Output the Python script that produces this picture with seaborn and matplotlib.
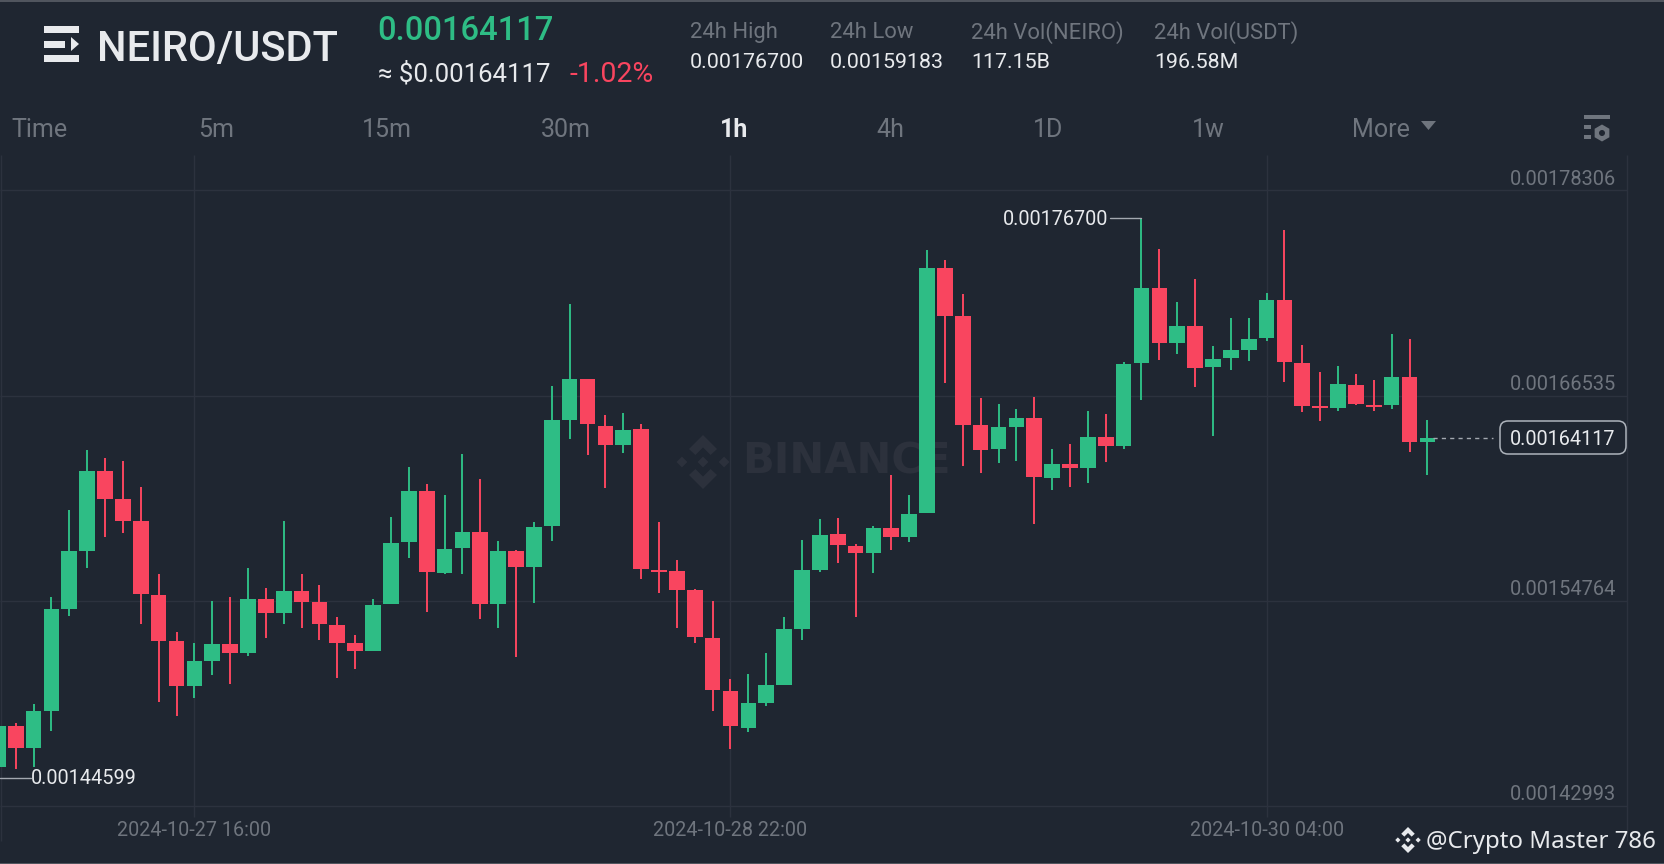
import numpy as np
import pandas as pd
import matplotlib
matplotlib.use('Agg')
import matplotlib.pyplot as plt
from matplotlib.patches import Polygon, Rectangle, FancyBboxPatch, RegularPolygon, Circle
from matplotlib.transforms import IdentityTransform
import seaborn as sns

# Candle values (price x 1e8)
opens = [145250, 147602, 146321, 148463, 154315, 157604, 162232, 160588, 159325, 155118,
         152441, 149897, 151312, 152288, 151790, 154850, 154085, 155309, 154697, 153397,
         152326, 151886, 154563, 158120, 161084, 156380, 157814, 158713, 154601, 157604,
         156724, 159038, 165158, 167510, 164814, 163704, 164603, 156514, 156456, 155366,
         152612, 149610, 147487, 148902, 149916, 153167, 156552, 158618, 157929, 157528,
         158924, 158407, 159784, 173840, 171087, 164833, 163456, 164757, 165254, 161831,
         162615, 162365, 164144, 163666, 168389, 172692, 169575, 170531, 168198, 168676,
         169154, 169824, 172042, 168428, 165922, 165807, 167146, 165999, 165999, 167605,
         163876]
closes = [147602, 146321, 148463, 154296, 157623, 162232, 160607, 159325, 155156, 152460,
          149897, 151293, 152288, 151752, 154850, 154085, 155309, 154716, 153454, 152326,
          151886, 154544, 158082, 161046, 156437, 157757, 158732, 154582, 157623, 156686,
          159019, 165139, 167510, 164890, 163704, 164584, 156571, 156437, 155385, 152689,
          149629, 147564, 148902, 149916, 153129, 156552, 158560, 157948, 157489, 158924,
          158407, 159746, 173840, 171106, 164871, 163418, 164718, 165254, 161850, 162615,
          162385, 164144, 163666, 168351, 172692, 169556, 170531, 168141, 168657, 169135,
          169804, 172023, 168447, 165941, 165807, 167223, 166037, 165903, 167624, 163876,
          164117]
highs = [147602, 147736, 148826, 154965, 159976, 163418, 162978, 162806, 161276, 156304,
         152957, 152345, 154774, 154965, 156648, 155481, 159325, 156323, 155692, 153856,
         152785, 154889, 159574, 162442, 161486, 160836, 163188, 161735, 158178, 157699,
         159268, 167070, 171775, 167510, 165425, 165521, 164890, 159287, 157126, 155443,
         154754, 150260, 150566, 151752, 153817, 158254, 159440, 159517, 158044, 159077,
         161964, 160817, 174873, 174319, 172368, 166382, 166076, 165770, 166459, 163475,
         163743, 165674, 165482, 168466, 176700, 174968, 171889, 173208, 169384, 170971,
         170971, 172405, 176020, 169422, 167873, 168236, 167796, 167433, 170053, 169766,
         165119]
lows = [144599, 145097, 145250, 147315, 153894, 156648, 158407, 158675, 153416, 148979,
        148176, 149209, 150509, 149993, 151618, 152651, 153454, 153225, 152536, 150356,
        150834, 151886, 154563, 157240, 154104, 156322, 156322, 153722, 153205, 151522,
        154620, 158197, 164068, 163150, 161256, 163264, 156036, 155232, 153205, 152345,
        148463, 146244, 147258, 148730, 149916, 152497, 156437, 156954, 153817, 156379,
        157700, 158121, 159784, 167281, 162500, 162117, 162691, 162787, 159191, 161123,
        161295, 161543, 162748, 163455, 166266, 168600, 168906, 167012, 164201, 167988,
        168504, 169651, 167299, 165578, 165081, 165674, 165999, 165674, 165750, 163321,
        161983]

price_ticks = [142993, 154764, 166535, 178306]
time_ticks = [11, 41, 71]
time_labels = ['2024-10-27 16:00', '2024-10-28 22:00', '2024-10-30 04:00']
tabs = ['Time', '5m', '15m', '30m', '1h', '4h', '1D', '1w', 'More']
tab_x = [11, 198, 362, 541, 720, 876, 1033, 1192, 1352]
stats = [('24h High', '0.00176700', 690), ('24h Low', '0.00159183', 830),
         ('24h Vol(NEIRO)', '117.15B', 971), ('24h Vol(USDT)', '196.58M', 1154)]

W, H = 1665, 864
BG = '#1f2631'
GREEN = '#2ebd85'
RED = '#f9455f'
GRID = '#2c323e'
MUTED = '#6f757e'
WHITE = '#e8eaed'

sns.set_theme(style='dark', rc={'figure.facecolor': BG, 'axes.facecolor': BG})
plt.rcParams['font.family'] = ['Roboto', 'DejaVu Sans']

df = pd.DataFrame({'i': range(len(opens)), 'open': opens, 'close': closes, 'high': highs, 'low': lows})
df[['open', 'close', 'high', 'low']] /= 1e8
df['up'] = df['close'] >= df['open']
df['bottom'] = df[['open', 'close']].min(axis=1)
df['height'] = (df['open'] - df['close']).abs()

fig = plt.figure(figsize=(W / 100, H / 100), dpi=100, facecolor=BG)
ax = fig.add_axes([0, 0, 1, 1])

# pixel helpers for the page furniture around the chart
def xdata(px):
    return 0.1231 + px / 17.87

def ydata(py):
    return (142993 + (806 - py) * 57.372) / 1e8

def label(x, y, s, size, color=MUTED, ha='left', weight='normal', family=None):
    kw = {'family': family} if family else {}
    fig.text(x / W, 1 - (y + 2) / H, s, fontsize=size, color=color, ha=ha, va='center', fontweight=weight, **kw)

def shape(pts, color, z=1):
    pts = [(x, H - y) for x, y in pts]
    ax.add_patch(Polygon(pts, closed=True, fc=color, ec='none', transform=IdentityTransform(), zorder=z))

def rect(x0, y0, x1, y1, color, z=6):
    ax.add_patch(Rectangle((x0, H - y1), x1 - x0, y1 - y0, fc=color, ec='none',
                           transform=IdentityTransform(), zorder=z))

def binance_logo(cx, cy, s, color, z=1):
    for dx, dy in [(0, 0), (-0.78, 0), (0.78, 0)]:
        r = 0.2 * s
        x, y = cx + dx * s, cy + dy * s
        shape([(x, y - r), (x + r, y), (x, y + r), (x - r, y)], color, z)
    for sign in (-1, 1):
        chev = [(0, 1), (0.52, 0.48), (0.28, 0.26), (0, 0.54), (-0.28, 0.26), (-0.52, 0.48)]
        shape([(cx + a * s, cy + sign * b * s) for a, b in chev], color, z)

# Grid
ax.hlines([p / 1e8 for p in price_ticks], xdata(0), xdata(1627), color=GRID, lw=1, zorder=0)
ax.vlines(time_ticks, ydata(817), ydata(155), color=GRID, lw=1, zorder=0)
ax.vlines([xdata(1), xdata(1627)], ydata(841), ydata(155), color=GRID, lw=1, zorder=0)

# Watermark, behind the candles
binance_logo(703, 462, 27, '#2c313c')
ax.annotate('BINANCE', xy=(xdata(742), ydata(462)), ha='left', va='center', fontsize=30, color='#2c313c',
            fontweight='bold', family='DejaVu Sans', zorder=1)

# Wicks
wicks = df.melt(id_vars=['i', 'up'], value_vars=['low', 'high'], value_name='price')
sns.lineplot(data=wicks, x='i', y='price', units='i', hue='up', palette={True: GREEN, False: RED},
             estimator=None, sort=False, legend=False, lw=1.4, ax=ax, zorder=3, solid_capstyle='butt')

# Bodies
for is_up, color in [(True, GREEN), (False, RED)]:
    part = df[df['up'] == is_up]
    sns.barplot(data=part, x='i', y='height', bottom=part['bottom'].values, native_scale=True,
                color=color, saturation=1, width=0.877, errorbar=None, linewidth=0, ax=ax, zorder=4)

# Axis labels
for p in price_ticks:
    ax.annotate(f'{p / 1e8:.8f}', xy=(xdata(1616), p / 1e8), xytext=(0, 11), textcoords='offset pixels',
                ha='right', va='center', fontsize=14.4, color=MUTED)
for t, s in zip(time_ticks, time_labels):
    ax.annotate(s, xy=(t, ydata(830)), ha='center', va='center', fontsize=14.2, color=MUTED)

# High / low / last price markers
ax.plot([xdata(1110), 64], [highs[64] / 1e8] * 2, color='#a3a8b0', lw=1, zorder=5)
ax.plot([xdata(0), xdata(31)], [lows[0] / 1e8] * 2, color='#a3a8b0', lw=1, zorder=5)
ax.annotate('0.00176700', xy=(xdata(1108), highs[64] / 1e8), xytext=(0, -1), textcoords='offset pixels',
            ha='right', va='center', fontsize=14.3, color=WHITE)
ax.annotate('0.00144599', xy=(xdata(31), lows[0] / 1e8), xytext=(0, 0), textcoords='offset pixels',
            ha='left', va='center', fontsize=14.3, color=WHITE)
ax.plot([80.3, xdata(1493)], [closes[-1] / 1e8] * 2, color='#a3a8b0', lw=1, dashes=(3, 3), zorder=5)
ax.add_patch(FancyBboxPatch((1500, H - 454), 126, 33, boxstyle='round,pad=0,rounding_size=8', fc=BG,
                            ec='#aeb4bc', lw=1.1, transform=IdentityTransform(), zorder=6))
ax.annotate('0.00164117', xy=(xdata(1563), closes[-1] / 1e8), xytext=(0, -2), textcoords='offset pixels',
            ha='center', va='center', fontsize=14.3, color=WHITE, zorder=7)

ax.set_xlim(xdata(0), xdata(W))
ax.set_ylim(ydata(H), ydata(0))
ax.axis('off')

# Header
rect(44, 26, 79, 33.3, WHITE)
rect(44, 40.7, 65, 47.7, WHITE)
shape([(71, 37), (79, 44), (71, 51)], WHITE, 6)
rect(44, 54.7, 79, 62, WHITE)
label(97, 47, 'NEIRO/USDT', 30, WHITE, weight='medium')
label(377, 29, '0.00164117', 23.5, GREEN, weight='medium')
label(378, 72, '≈ $0.00164117', 18.5, WHITE)
label(570, 72, '-1.02%', 20.5, RED)
for name, value, x in stats:
    label(x, 30.5, name, 15.8, MUTED)
    label(x, 61, value, 15.4, WHITE)

for name, x in zip(tabs, tab_x):
    active = name == '1h'
    label(x, 128, name, 18, WHITE if active else MUTED, weight='bold' if active else 'normal')
shape([(1421, 121), (1436, 121), (1428.5, 130)], MUTED, 6)

# settings icon
rect(1584, 115, 1610, 119, MUTED)
rect(1584, 125, 1591, 129, MUTED)
rect(1584, 135, 1591, 139, MUTED)
ax.add_patch(RegularPolygon((1602, H - 133), 6, radius=8.5, fc=MUTED, ec='none',
                            transform=IdentityTransform(), zorder=6))
ax.add_patch(Circle((1602, H - 133), 3, fc=BG, ec='none', transform=IdentityTransform(), zorder=7))

# Footer
binance_logo(1408, 840, 13, WHITE, 6)
label(1426, 839.5, '@Crypto Master 786', 17.3, WHITE, family='Noto Sans')

# window edges
rect(0, 0, W, 1.5, '#50555e')
rect(0, 862.5, W, H, '#50555e')

plt.savefig('out.png', dpi=100, facecolor=BG)
